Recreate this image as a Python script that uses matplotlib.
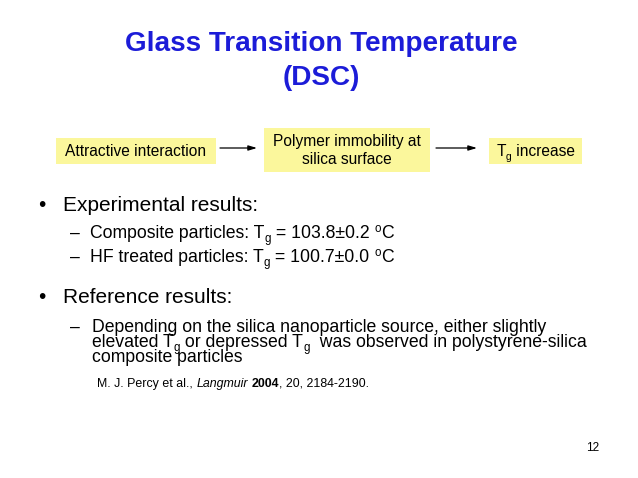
import matplotlib

matplotlib.use("Agg")

import matplotlib.pyplot as plt
from matplotlib.patches import Rectangle


TITLE_LINES = ["Glass Transition Temperature", "(DSC)"]
FLOW_LABELS = [
    [[("Attractive interaction", "n")]],
    [[("Polymer immobility at", "n")], [("silica surface", "n")]],
    [[("T", "n"), ("g", "sub"), (" increase", "n")]],
]
HEADINGS = ["Experimental results:", "Reference results:"]
EXPERIMENTAL = [
    [("Composite particles: T", "n"), ("g", "sub"), (" = 103.8±0.2 ", "n"),
     ("o", "sup"), ("C", "n")],
    [("HF treated particles: T", "n"), ("g", "sub"), (" = 100.7±0.0 ", "n"),
     ("o", "sup"), ("C", "n")],
]
REFERENCE = [
    [("Depending on the silica nanoparticle source, either slightly", "n")],
    [("elevated T", "n"), ("g", "sub"), (" or depressed T", "n"), ("g", "sub"),
     ("  was observed in polystyrene-silica", "n")],
    [("composite particles", "n")],
]
CITATION = [("M. J. Percy et al., ", "n"), ("Langmuir", "it"), (" ", "n"),
            ("2004", "bf"), (", 20, 2184-2190.", "n")]
PAGE = "12"

BLUE = "#1c1cd8"
BOX = "#fbf79c"

plt.rcParams["font.family"] = ["Liberation Sans", "DejaVu Sans"]


def text_width(ax, renderer, s, **kw):
    # measure with sentinels so leading/trailing spaces count
    a = ax.text(0, 0, "|" + s + "|", **kw)
    b = ax.text(0, 0, "||", **kw)
    w = a.get_window_extent(renderer).width - b.get_window_extent(renderer).width
    a.remove()
    b.remove()
    return w


def draw_runs(ax, renderer, x, y, runs, size, align="left", color="black"):
    em = size * 100 / 72
    pieces = []
    for s, kind in runs:
        kw = dict(fontsize=size, color=color, va="baseline", ha="left")
        dy = 0
        if kind == "sub":
            kw["fontsize"] = size * 0.66
            dy = 0.24 * em
        elif kind == "sup":
            kw["fontsize"] = size * 0.66
            dy = -0.36 * em
        elif kind == "it":
            kw["fontstyle"] = "italic"
        elif kind == "bf":
            kw["fontweight"] = "bold"
        pieces.append((s, kw, dy, text_width(ax, renderer, s, **kw)))
    total = sum(p[3] for p in pieces)
    cx = x - total / 2 if align == "center" else x
    for s, kw, dy, w in pieces:
        ax.text(cx, y + dy, s, **kw)
        cx += w


def main():
    fig = plt.figure(figsize=(6.38, 4.78), dpi=100)
    ax = fig.add_axes([0, 0, 1, 1])
    ax.set_xlim(0, 638)
    ax.set_ylim(478, 0)
    ax.axis("off")
    renderer = fig.canvas.get_renderer()

    # title
    for line, base in zip(TITLE_LINES, [51, 85]):
        ax.text(321, base, line, ha="center", va="baseline",
                fontsize=20.1, fontweight="bold", color=BLUE)

    # flow boxes
    boxes = [(56, 138, 216, 164), (264, 128, 430, 172), (489, 138, 582, 164)]
    for (x0, y0, x1, y1), label in zip(boxes, FLOW_LABELS):
        ax.add_patch(Rectangle((x0, y0), x1 - x0, y1 - y0, facecolor=BOX,
                               edgecolor="none"))
        bases = [156] if len(label) == 1 else [146, 164]
        for runs, base in zip(label, bases):
            draw_runs(ax, renderer, (x0 + x1) / 2, base, runs, 11.2, align="center")
    for x0, x1 in [(220, 257), (436, 477)]:
        ax.annotate("", xy=(x1, 148), xytext=(x0, 148),
                    arrowprops=dict(arrowstyle="-|>,head_length=0.5,head_width=0.15",
                                    color="black", lw=0.9, shrinkA=0, shrinkB=0))

    # bullets
    for head, base in zip(HEADINGS, [211, 303]):
        ax.text(42, base, "•", ha="center", va="baseline", fontsize=15)
        ax.text(63, base, head, ha="left", va="baseline", fontsize=15)
    for runs, base in zip(EXPERIMENTAL, [238, 262]):
        ax.text(70, base, "–", ha="left", va="baseline", fontsize=12.7)
        draw_runs(ax, renderer, 90, base, runs, 12.7)
    ax.text(70, 332, "–", ha="left", va="baseline", fontsize=12.7)
    for runs, base in zip(REFERENCE, [332, 347, 362]):
        draw_runs(ax, renderer, 92, base, runs, 12.7)
    draw_runs(ax, renderer, 97, 387, CITATION, 8.9)
    ax.text(593, 451, PAGE, ha="center", va="baseline", fontsize=8.5)

    fig.savefig("out.png", dpi=100)
    plt.close(fig)


if __name__ == "__main__":
    main()
